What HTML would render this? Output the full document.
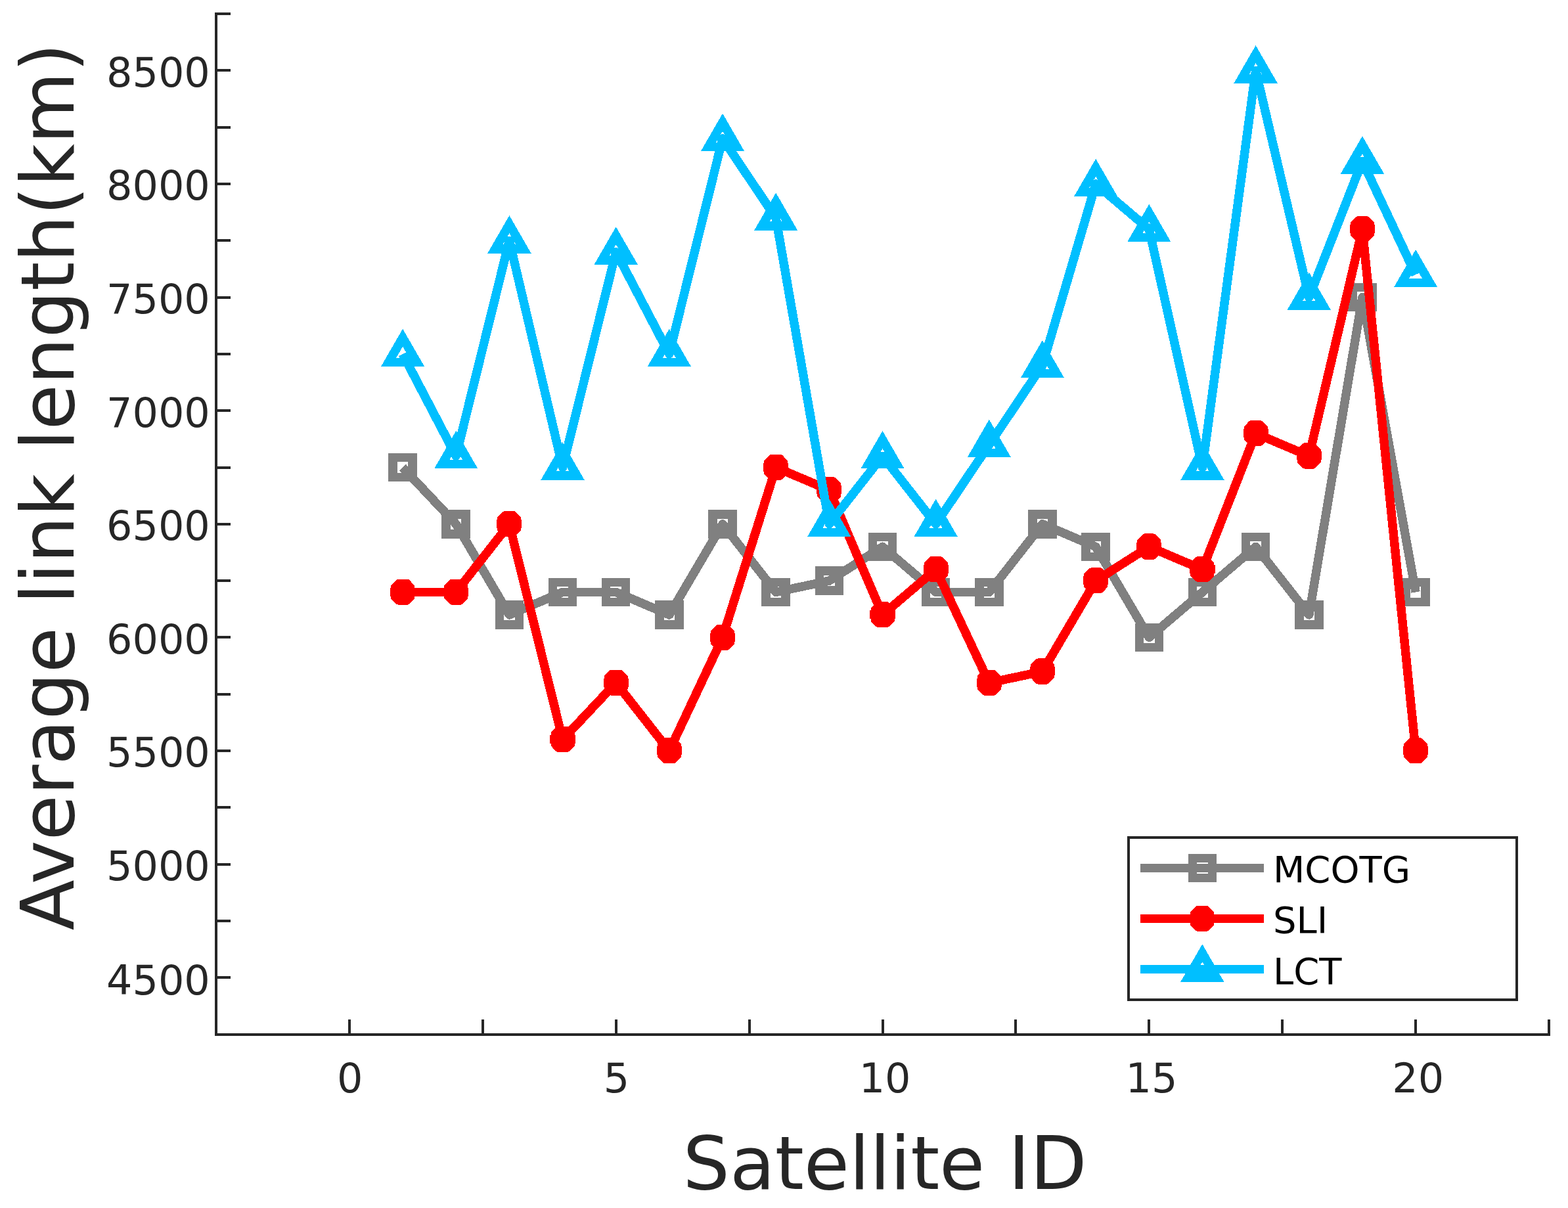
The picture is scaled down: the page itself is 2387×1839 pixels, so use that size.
<!DOCTYPE html>
<html lang="en"><head><meta charset="utf-8"><title>Average link length</title>
<style>html,body{margin:0;padding:0;background:#fff}body{width:2387px;height:1839px;overflow:hidden}svg{display:block}text{font-family:"DejaVu Sans","Liberation Sans",sans-serif}.tk{font-size:62px;fill:#262626}.lb{font-size:112.5px;letter-spacing:-0.13px;fill:#262626}.lg{font-size:56px;fill:#000}</style></head><body>
<svg width="2387" height="1839" viewBox="0 0 2387 1839">
<rect width="2387" height="1839" fill="#fff"/>
<g shape-rendering="crispEdges" fill="#262626">
<rect x="327" y="19" width="4" height="1558"/>
<rect x="327" y="1573" width="2033" height="4"/>
<rect x="331" y="1573" width="20" height="4"/>
<rect x="331" y="1486" width="20" height="4"/>
<rect x="331" y="1400" width="20" height="4"/>
<rect x="331" y="1314" width="20" height="4"/>
<rect x="331" y="1227" width="20" height="4"/>
<rect x="331" y="1141" width="20" height="4"/>
<rect x="331" y="1055" width="20" height="4"/>
<rect x="331" y="968" width="20" height="4"/>
<rect x="331" y="882" width="20" height="4"/>
<rect x="331" y="796" width="20" height="4"/>
<rect x="331" y="710" width="20" height="4"/>
<rect x="331" y="623" width="20" height="4"/>
<rect x="331" y="537" width="20" height="4"/>
<rect x="331" y="451" width="20" height="4"/>
<rect x="331" y="364" width="20" height="4"/>
<rect x="331" y="278" width="20" height="4"/>
<rect x="331" y="192" width="20" height="4"/>
<rect x="331" y="105" width="20" height="4"/>
<rect x="331" y="19" width="20" height="4"/>
<rect x="327" y="1552" width="4" height="21"/>
<rect x="530" y="1552" width="4" height="21"/>
<rect x="733" y="1552" width="4" height="21"/>
<rect x="936" y="1552" width="4" height="21"/>
<rect x="1139" y="1552" width="4" height="21"/>
<rect x="1342" y="1552" width="4" height="21"/>
<rect x="1544" y="1552" width="4" height="21"/>
<rect x="1747" y="1552" width="4" height="21"/>
<rect x="1950" y="1552" width="4" height="21"/>
<rect x="2153" y="1552" width="4" height="21"/>
<rect x="2356" y="1552" width="4" height="21"/>
</g>
<g class="tk">
<text x="319.8" y="1513.65" text-anchor="end">4500</text>
<text x="319.8" y="1339.85" text-anchor="end">5000</text>
<text x="319.8" y="1167.25" text-anchor="end">5500</text>
<text x="319.8" y="994.65" text-anchor="end">6000</text>
<text x="319.8" y="822.05" text-anchor="end">6500</text>
<text x="319.8" y="650.45" text-anchor="end">7000</text>
<text x="319.8" y="476.85" text-anchor="end">7500</text>
<text x="319.8" y="304.25" text-anchor="end">8000</text>
<text x="319.8" y="131.65" text-anchor="end">8500</text>
<text x="532.8" y="1662.5" text-anchor="middle">0</text>
<text x="938.6" y="1662.5" text-anchor="middle">5</text>
<text x="1347.1" y="1662.5" text-anchor="middle">10</text>
<text x="1752.9" y="1662.5" text-anchor="middle">15</text>
<text x="2158.7" y="1662.5" text-anchor="middle">20</text>
</g>
<text class="lb" x="1347" y="1809.6" text-anchor="middle">Satellite ID</text>
<text class="lb" transform="translate(111.7 741) rotate(-90)" text-anchor="middle">Average link length(km)</text>
<g shape-rendering="crispEdges">
<polyline points="613.06,711.55 694.22,797.85 775.38,935.93 856.54,901.41 937.7,901.41 1018.86,935.93 1100.02,797.85 1181.18,901.41 1262.34,884.15 1343.5,832.37 1424.66,901.41 1505.82,901.41 1586.98,797.85 1668.14,832.37 1749.3,970.45 1830.46,901.41 1911.62,832.37 1992.78,935.93 2073.94,452.65 2155.1,901.41" fill="none" stroke="#808080" stroke-width="13.5" stroke-linejoin="round" stroke-linecap="butt"/>
<rect x="598.06" y="696.55" width="30" height="30" fill="none" stroke="#808080" stroke-width="13.5"/>
<rect x="679.22" y="782.85" width="30" height="30" fill="none" stroke="#808080" stroke-width="13.5"/>
<rect x="760.38" y="920.93" width="30" height="30" fill="none" stroke="#808080" stroke-width="13.5"/>
<rect x="841.54" y="886.41" width="30" height="30" fill="none" stroke="#808080" stroke-width="13.5"/>
<rect x="922.7" y="886.41" width="30" height="30" fill="none" stroke="#808080" stroke-width="13.5"/>
<rect x="1003.86" y="920.93" width="30" height="30" fill="none" stroke="#808080" stroke-width="13.5"/>
<rect x="1085.02" y="782.85" width="30" height="30" fill="none" stroke="#808080" stroke-width="13.5"/>
<rect x="1166.18" y="886.41" width="30" height="30" fill="none" stroke="#808080" stroke-width="13.5"/>
<rect x="1247.34" y="869.15" width="30" height="30" fill="none" stroke="#808080" stroke-width="13.5"/>
<rect x="1328.5" y="817.37" width="30" height="30" fill="none" stroke="#808080" stroke-width="13.5"/>
<rect x="1409.66" y="886.41" width="30" height="30" fill="none" stroke="#808080" stroke-width="13.5"/>
<rect x="1490.82" y="886.41" width="30" height="30" fill="none" stroke="#808080" stroke-width="13.5"/>
<rect x="1571.98" y="782.85" width="30" height="30" fill="none" stroke="#808080" stroke-width="13.5"/>
<rect x="1653.14" y="817.37" width="30" height="30" fill="none" stroke="#808080" stroke-width="13.5"/>
<rect x="1734.3" y="955.45" width="30" height="30" fill="none" stroke="#808080" stroke-width="13.5"/>
<rect x="1815.46" y="886.41" width="30" height="30" fill="none" stroke="#808080" stroke-width="13.5"/>
<rect x="1896.62" y="817.37" width="30" height="30" fill="none" stroke="#808080" stroke-width="13.5"/>
<rect x="1977.78" y="920.93" width="30" height="30" fill="none" stroke="#808080" stroke-width="13.5"/>
<rect x="2058.94" y="437.65" width="30" height="30" fill="none" stroke="#808080" stroke-width="13.5"/>
<rect x="2140.1" y="886.41" width="30" height="30" fill="none" stroke="#808080" stroke-width="13.5"/>

<polyline points="613.06,901.41 694.22,901.41 775.38,797.85 856.54,1125.79 937.7,1039.49 1018.86,1143.05 1100.02,970.45 1181.18,711.55 1262.34,746.07 1343.5,935.93 1424.66,866.89 1505.82,1039.49 1586.98,1022.23 1668.14,884.15 1749.3,832.37 1830.46,866.89 1911.62,659.77 1992.78,694.29 2073.94,349.09 2155.1,1143.05" fill="none" stroke="#ff0000" stroke-width="13.5" stroke-linejoin="round" stroke-linecap="butt"/>
<polygon points="606.06,881.51 620.06,881.51 622.56,882.51 631.06,891.11 631.06,894.61 632.16,894.61 632.16,907.61 631.06,907.61 631.06,911.11 622.56,919.71 620.06,920.71 606.06,920.71 620.06,920.71 606.06,920.71 603.56,919.71 595.06,911.11 595.06,907.61 593.96,907.61 593.96,894.61 595.06,894.61 595.06,891.11 603.56,882.51 606.06,881.51 620.06,881.51" fill="#ff0000"/>
<polygon points="687.22,881.51 701.22,881.51 703.72,882.51 712.22,891.11 712.22,894.61 713.32,894.61 713.32,907.61 712.22,907.61 712.22,911.11 703.72,919.71 701.22,920.71 687.22,920.71 701.22,920.71 687.22,920.71 684.72,919.71 676.22,911.11 676.22,907.61 675.12,907.61 675.12,894.61 676.22,894.61 676.22,891.11 684.72,882.51 687.22,881.51 701.22,881.51" fill="#ff0000"/>
<polygon points="768.38,777.95 782.38,777.95 784.88,778.95 793.38,787.55 793.38,791.05 794.48,791.05 794.48,804.05 793.38,804.05 793.38,807.55 784.88,816.15 782.38,817.15 768.38,817.15 782.38,817.15 768.38,817.15 765.88,816.15 757.38,807.55 757.38,804.05 756.28,804.05 756.28,791.05 757.38,791.05 757.38,787.55 765.88,778.95 768.38,777.95 782.38,777.95" fill="#ff0000"/>
<polygon points="849.54,1105.89 863.54,1105.89 866.04,1106.89 874.54,1115.49 874.54,1118.99 875.64,1118.99 875.64,1131.99 874.54,1131.99 874.54,1135.49 866.04,1144.09 863.54,1145.09 849.54,1145.09 863.54,1145.09 849.54,1145.09 847.04,1144.09 838.54,1135.49 838.54,1131.99 837.44,1131.99 837.44,1118.99 838.54,1118.99 838.54,1115.49 847.04,1106.89 849.54,1105.89 863.54,1105.89" fill="#ff0000"/>
<polygon points="930.7,1019.59 944.7,1019.59 947.2,1020.59 955.7,1029.19 955.7,1032.69 956.8,1032.69 956.8,1045.69 955.7,1045.69 955.7,1049.19 947.2,1057.79 944.7,1058.79 930.7,1058.79 944.7,1058.79 930.7,1058.79 928.2,1057.79 919.7,1049.19 919.7,1045.69 918.6,1045.69 918.6,1032.69 919.7,1032.69 919.7,1029.19 928.2,1020.59 930.7,1019.59 944.7,1019.59" fill="#ff0000"/>
<polygon points="1011.86,1123.15 1025.86,1123.15 1028.36,1124.15 1036.86,1132.75 1036.86,1136.25 1037.96,1136.25 1037.96,1149.25 1036.86,1149.25 1036.86,1152.75 1028.36,1161.35 1025.86,1162.35 1011.86,1162.35 1025.86,1162.35 1011.86,1162.35 1009.36,1161.35 1000.86,1152.75 1000.86,1149.25 999.76,1149.25 999.76,1136.25 1000.86,1136.25 1000.86,1132.75 1009.36,1124.15 1011.86,1123.15 1025.86,1123.15" fill="#ff0000"/>
<polygon points="1093.02,950.55 1107.02,950.55 1109.52,951.55 1118.02,960.15 1118.02,963.65 1119.12,963.65 1119.12,976.65 1118.02,976.65 1118.02,980.15 1109.52,988.75 1107.02,989.75 1093.02,989.75 1107.02,989.75 1093.02,989.75 1090.52,988.75 1082.02,980.15 1082.02,976.65 1080.92,976.65 1080.92,963.65 1082.02,963.65 1082.02,960.15 1090.52,951.55 1093.02,950.55 1107.02,950.55" fill="#ff0000"/>
<polygon points="1174.18,691.65 1188.18,691.65 1190.68,692.65 1199.18,701.25 1199.18,704.75 1200.28,704.75 1200.28,717.75 1199.18,717.75 1199.18,721.25 1190.68,729.85 1188.18,730.85 1174.18,730.85 1188.18,730.85 1174.18,730.85 1171.68,729.85 1163.18,721.25 1163.18,717.75 1162.08,717.75 1162.08,704.75 1163.18,704.75 1163.18,701.25 1171.68,692.65 1174.18,691.65 1188.18,691.65" fill="#ff0000"/>
<polygon points="1255.34,726.17 1269.34,726.17 1271.84,727.17 1280.34,735.77 1280.34,739.27 1281.44,739.27 1281.44,752.27 1280.34,752.27 1280.34,755.77 1271.84,764.37 1269.34,765.37 1255.34,765.37 1269.34,765.37 1255.34,765.37 1252.84,764.37 1244.34,755.77 1244.34,752.27 1243.24,752.27 1243.24,739.27 1244.34,739.27 1244.34,735.77 1252.84,727.17 1255.34,726.17 1269.34,726.17" fill="#ff0000"/>
<polygon points="1336.5,916.03 1350.5,916.03 1353,917.03 1361.5,925.63 1361.5,929.13 1362.6,929.13 1362.6,942.13 1361.5,942.13 1361.5,945.63 1353,954.23 1350.5,955.23 1336.5,955.23 1350.5,955.23 1336.5,955.23 1334,954.23 1325.5,945.63 1325.5,942.13 1324.4,942.13 1324.4,929.13 1325.5,929.13 1325.5,925.63 1334,917.03 1336.5,916.03 1350.5,916.03" fill="#ff0000"/>
<polygon points="1417.66,846.99 1431.66,846.99 1434.16,847.99 1442.66,856.59 1442.66,860.09 1443.76,860.09 1443.76,873.09 1442.66,873.09 1442.66,876.59 1434.16,885.19 1431.66,886.19 1417.66,886.19 1431.66,886.19 1417.66,886.19 1415.16,885.19 1406.66,876.59 1406.66,873.09 1405.56,873.09 1405.56,860.09 1406.66,860.09 1406.66,856.59 1415.16,847.99 1417.66,846.99 1431.66,846.99" fill="#ff0000"/>
<polygon points="1498.82,1019.59 1512.82,1019.59 1515.32,1020.59 1523.82,1029.19 1523.82,1032.69 1524.92,1032.69 1524.92,1045.69 1523.82,1045.69 1523.82,1049.19 1515.32,1057.79 1512.82,1058.79 1498.82,1058.79 1512.82,1058.79 1498.82,1058.79 1496.32,1057.79 1487.82,1049.19 1487.82,1045.69 1486.72,1045.69 1486.72,1032.69 1487.82,1032.69 1487.82,1029.19 1496.32,1020.59 1498.82,1019.59 1512.82,1019.59" fill="#ff0000"/>
<polygon points="1579.98,1002.33 1593.98,1002.33 1596.48,1003.33 1604.98,1011.93 1604.98,1015.43 1606.08,1015.43 1606.08,1028.43 1604.98,1028.43 1604.98,1031.93 1596.48,1040.53 1593.98,1041.53 1579.98,1041.53 1593.98,1041.53 1579.98,1041.53 1577.48,1040.53 1568.98,1031.93 1568.98,1028.43 1567.88,1028.43 1567.88,1015.43 1568.98,1015.43 1568.98,1011.93 1577.48,1003.33 1579.98,1002.33 1593.98,1002.33" fill="#ff0000"/>
<polygon points="1661.14,864.25 1675.14,864.25 1677.64,865.25 1686.14,873.85 1686.14,877.35 1687.24,877.35 1687.24,890.35 1686.14,890.35 1686.14,893.85 1677.64,902.45 1675.14,903.45 1661.14,903.45 1675.14,903.45 1661.14,903.45 1658.64,902.45 1650.14,893.85 1650.14,890.35 1649.04,890.35 1649.04,877.35 1650.14,877.35 1650.14,873.85 1658.64,865.25 1661.14,864.25 1675.14,864.25" fill="#ff0000"/>
<polygon points="1742.3,812.47 1756.3,812.47 1758.8,813.47 1767.3,822.07 1767.3,825.57 1768.4,825.57 1768.4,838.57 1767.3,838.57 1767.3,842.07 1758.8,850.67 1756.3,851.67 1742.3,851.67 1756.3,851.67 1742.3,851.67 1739.8,850.67 1731.3,842.07 1731.3,838.57 1730.2,838.57 1730.2,825.57 1731.3,825.57 1731.3,822.07 1739.8,813.47 1742.3,812.47 1756.3,812.47" fill="#ff0000"/>
<polygon points="1823.46,846.99 1837.46,846.99 1839.96,847.99 1848.46,856.59 1848.46,860.09 1849.56,860.09 1849.56,873.09 1848.46,873.09 1848.46,876.59 1839.96,885.19 1837.46,886.19 1823.46,886.19 1837.46,886.19 1823.46,886.19 1820.96,885.19 1812.46,876.59 1812.46,873.09 1811.36,873.09 1811.36,860.09 1812.46,860.09 1812.46,856.59 1820.96,847.99 1823.46,846.99 1837.46,846.99" fill="#ff0000"/>
<polygon points="1904.62,639.87 1918.62,639.87 1921.12,640.87 1929.62,649.47 1929.62,652.97 1930.72,652.97 1930.72,665.97 1929.62,665.97 1929.62,669.47 1921.12,678.07 1918.62,679.07 1904.62,679.07 1918.62,679.07 1904.62,679.07 1902.12,678.07 1893.62,669.47 1893.62,665.97 1892.52,665.97 1892.52,652.97 1893.62,652.97 1893.62,649.47 1902.12,640.87 1904.62,639.87 1918.62,639.87" fill="#ff0000"/>
<polygon points="1985.78,674.39 1999.78,674.39 2002.28,675.39 2010.78,683.99 2010.78,687.49 2011.88,687.49 2011.88,700.49 2010.78,700.49 2010.78,703.99 2002.28,712.59 1999.78,713.59 1985.78,713.59 1999.78,713.59 1985.78,713.59 1983.28,712.59 1974.78,703.99 1974.78,700.49 1973.68,700.49 1973.68,687.49 1974.78,687.49 1974.78,683.99 1983.28,675.39 1985.78,674.39 1999.78,674.39" fill="#ff0000"/>
<polygon points="2066.94,329.19 2080.94,329.19 2083.44,330.19 2091.94,338.79 2091.94,342.29 2093.04,342.29 2093.04,355.29 2091.94,355.29 2091.94,358.79 2083.44,367.39 2080.94,368.39 2066.94,368.39 2080.94,368.39 2066.94,368.39 2064.44,367.39 2055.94,358.79 2055.94,355.29 2054.84,355.29 2054.84,342.29 2055.94,342.29 2055.94,338.79 2064.44,330.19 2066.94,329.19 2080.94,329.19" fill="#ff0000"/>
<polygon points="2148.1,1123.15 2162.1,1123.15 2164.6,1124.15 2173.1,1132.75 2173.1,1136.25 2174.2,1136.25 2174.2,1149.25 2173.1,1149.25 2173.1,1152.75 2164.6,1161.35 2162.1,1162.35 2148.1,1162.35 2162.1,1162.35 2148.1,1162.35 2145.6,1161.35 2137.1,1152.75 2137.1,1149.25 2136,1149.25 2136,1136.25 2137.1,1136.25 2137.1,1132.75 2145.6,1124.15 2148.1,1123.15 2162.1,1123.15" fill="#ff0000"/>

<polyline points="613.06,538.95 694.22,694.29 775.38,366.35 856.54,711.55 937.7,383.61 1018.86,538.95 1100.02,211.01 1181.18,331.83 1262.34,797.85 1343.5,694.29 1424.66,797.85 1505.82,677.03 1586.98,556.21 1668.14,280.05 1749.3,349.09 1830.46,711.55 1911.62,107.45 1992.78,452.65 2073.94,245.53 2155.1,418.13" fill="none" stroke="#00bfff" stroke-width="13.5" stroke-linejoin="round" stroke-linecap="butt"/>
<polygon points="613.06,514.15 591.58,551.35 634.54,551.35" fill="none" stroke="#00bfff" stroke-width="13.5" stroke-linejoin="miter" stroke-miterlimit="10"/>
<polygon points="694.22,669.49 672.74,706.69 715.7,706.69" fill="none" stroke="#00bfff" stroke-width="13.5" stroke-linejoin="miter" stroke-miterlimit="10"/>
<polygon points="775.38,341.55 753.9,378.75 796.86,378.75" fill="none" stroke="#00bfff" stroke-width="13.5" stroke-linejoin="miter" stroke-miterlimit="10"/>
<polygon points="856.54,686.75 835.06,723.95 878.02,723.95" fill="none" stroke="#00bfff" stroke-width="13.5" stroke-linejoin="miter" stroke-miterlimit="10"/>
<polygon points="937.7,358.81 916.22,396.01 959.18,396.01" fill="none" stroke="#00bfff" stroke-width="13.5" stroke-linejoin="miter" stroke-miterlimit="10"/>
<polygon points="1018.86,514.15 997.38,551.35 1040.34,551.35" fill="none" stroke="#00bfff" stroke-width="13.5" stroke-linejoin="miter" stroke-miterlimit="10"/>
<polygon points="1100.02,186.21 1078.54,223.41 1121.5,223.41" fill="none" stroke="#00bfff" stroke-width="13.5" stroke-linejoin="miter" stroke-miterlimit="10"/>
<polygon points="1181.18,307.03 1159.7,344.23 1202.66,344.23" fill="none" stroke="#00bfff" stroke-width="13.5" stroke-linejoin="miter" stroke-miterlimit="10"/>
<polygon points="1262.34,773.05 1240.86,810.25 1283.82,810.25" fill="none" stroke="#00bfff" stroke-width="13.5" stroke-linejoin="miter" stroke-miterlimit="10"/>
<polygon points="1343.5,669.49 1322.02,706.69 1364.98,706.69" fill="none" stroke="#00bfff" stroke-width="13.5" stroke-linejoin="miter" stroke-miterlimit="10"/>
<polygon points="1424.66,773.05 1403.18,810.25 1446.14,810.25" fill="none" stroke="#00bfff" stroke-width="13.5" stroke-linejoin="miter" stroke-miterlimit="10"/>
<polygon points="1505.82,652.23 1484.34,689.43 1527.3,689.43" fill="none" stroke="#00bfff" stroke-width="13.5" stroke-linejoin="miter" stroke-miterlimit="10"/>
<polygon points="1586.98,531.41 1565.5,568.61 1608.46,568.61" fill="none" stroke="#00bfff" stroke-width="13.5" stroke-linejoin="miter" stroke-miterlimit="10"/>
<polygon points="1668.14,255.25 1646.66,292.45 1689.62,292.45" fill="none" stroke="#00bfff" stroke-width="13.5" stroke-linejoin="miter" stroke-miterlimit="10"/>
<polygon points="1749.3,324.29 1727.82,361.49 1770.78,361.49" fill="none" stroke="#00bfff" stroke-width="13.5" stroke-linejoin="miter" stroke-miterlimit="10"/>
<polygon points="1830.46,686.75 1808.98,723.95 1851.94,723.95" fill="none" stroke="#00bfff" stroke-width="13.5" stroke-linejoin="miter" stroke-miterlimit="10"/>
<polygon points="1911.62,82.65 1890.14,119.85 1933.1,119.85" fill="none" stroke="#00bfff" stroke-width="13.5" stroke-linejoin="miter" stroke-miterlimit="10"/>
<polygon points="1992.78,427.85 1971.3,465.05 2014.26,465.05" fill="none" stroke="#00bfff" stroke-width="13.5" stroke-linejoin="miter" stroke-miterlimit="10"/>
<polygon points="2073.94,220.73 2052.46,257.93 2095.42,257.93" fill="none" stroke="#00bfff" stroke-width="13.5" stroke-linejoin="miter" stroke-miterlimit="10"/>
<polygon points="2155.1,393.33 2133.62,430.53 2176.58,430.53" fill="none" stroke="#00bfff" stroke-width="13.5" stroke-linejoin="miter" stroke-miterlimit="10"/>

</g>
<g shape-rendering="crispEdges">
<rect x="1718" y="1275" width="591" height="247" fill="#fff" stroke="#262626" stroke-width="4"/>
<rect x="1736" y="1314.75" width="188" height="13.5" fill="#808080"/>
<rect x="1815.5" y="1306.5" width="30" height="30" fill="none" stroke="#808080" stroke-width="13.5"/>
<rect x="1736" y="1391.75" width="188" height="13.5" fill="#ff0000"/>
<polygon points="1823,1378.6 1837,1378.6 1839.5,1379.6 1848,1388.2 1848,1391.7 1849.1,1391.7 1849.1,1404.7 1848,1404.7 1848,1408.2 1839.5,1416.8 1837,1417.8 1823,1417.8 1837,1417.8 1823,1417.8 1820.5,1416.8 1812,1408.2 1812,1404.7 1810.9,1404.7 1810.9,1391.7 1812,1391.7 1812,1388.2 1820.5,1379.6 1823,1378.6 1837,1378.6" fill="#ff0000"/>
<rect x="1736" y="1468.95" width="188" height="13.5" fill="#00bfff"/>
<polygon points="1830.3,1450.9 1808.82,1488.1 1851.78,1488.1" fill="none" stroke="#00bfff" stroke-width="13.5" stroke-linejoin="miter" stroke-miterlimit="10"/>
</g>
<g class="lg">
<text x="1938" y="1343.4">MCOTG</text>
<text x="1938" y="1420.4">SLI</text>
<text x="1938" y="1497.6">LCT</text>
</g>
</svg></body></html>
